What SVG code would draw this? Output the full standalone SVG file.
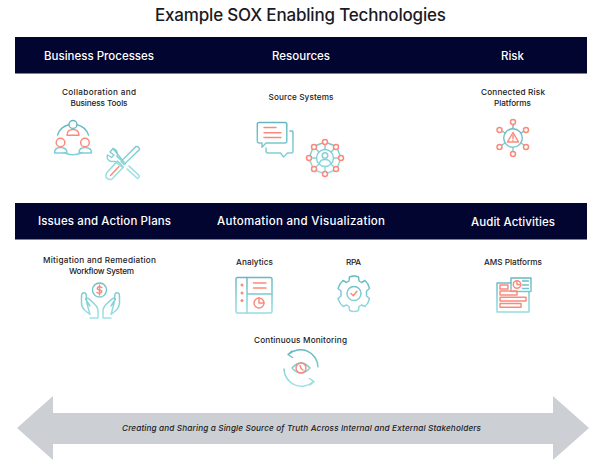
<svg xmlns="http://www.w3.org/2000/svg" xmlns:xlink="http://www.w3.org/1999/xlink" width="600" height="470" viewBox="0 0 600 470">
<defs>
<linearGradient id="base"><stop offset="0" stop-color="#62b6bf"/><stop offset="1" stop-color="#9fe4e6"/></linearGradient>
<linearGradient id="g1" href="#base" gradientUnits="userSpaceOnUse" x1="0" x2="0" y1="120" y2="182"/>
<linearGradient id="g2" href="#base" gradientUnits="userSpaceOnUse" x1="0" x2="0" y1="275" y2="320"/>
<linearGradient id="g3" href="#base" gradientUnits="userSpaceOnUse" x1="0" x2="0" y1="350" y2="388"/>
</defs>
<style>
text{font-family:"Inter","Liberation Sans",sans-serif;text-anchor:middle;fill:#1a1a24}
.title{font-size:17px;font-weight:500}
.bar{fill:#020530}
.hd{font-size:11.500px;font-weight:500;fill:#fff}
.lb{font-size:8.200px;font-weight:500}
.t1,.t2,.t3,.s{fill:none;stroke-width:1.450;stroke-linecap:round;stroke-linejoin:round}
.t1{stroke:url(#g1)}.t2{stroke:url(#g2)}.t3{stroke:url(#g3)}
.s{stroke:#fb8a7c}
.n{fill:#fff;stroke:#fb8a7c;stroke-width:1.500}
.f{fill:#fb8a7c}
</style>
<rect width="600" height="470" fill="#fff"/>
<text class="title" x="300.500" y="21" textLength="291">Example SOX Enabling Technologies</text>
<g id="bar-top"><rect class="bar" x="15" y="37" width="572" height="36.500"/>
<text class="hd" x="99" y="60" textLength="110">Business Processes</text>
<text class="hd" x="301" y="60" textLength="58">Resources</text>
<text class="hd" x="512.500" y="60" textLength="23">Risk</text></g>
<g id="bar-mid"><rect class="bar" x="15" y="203" width="572" height="36.500"/>
<text class="hd" x="104.500" y="225" textLength="133">Issues and Action Plans</text>
<text class="hd" x="301" y="225" textLength="168">Automation and Visualization</text>
<text class="hd" x="513" y="226" textLength="84">Audit Activities</text></g>

<g id="collab">
<text class="lb" x="99" y="95" textLength="74">Collaboration and</text>
<text class="lb" x="99" y="106" textLength="57">Business Tools</text>
<path class="t1" d="M77 124.800A16 16 0 0 1 88.500 135M57.500 135A16 16 0 0 1 68.500 124.800M64 152.500Q73 157 82 152.500"/>
<circle class="t1" cx="73" cy="124.500" r="4"/>
<path class="s" d="M67 135.300Q67 129.500 73 129.500Q79 129.500 79 135.300Z"/>
<circle class="s" cx="60.500" cy="142.500" r="4.300"/><circle class="s" cx="85" cy="142.500" r="4.300"/>
<path class="t1" d="M54.500 153Q54.500 147.500 60.500 147.500Q67 147.500 67 153ZM79 153Q79 147.500 85 147.500Q91.500 147.500 91.500 153Z"/>
<path class="t1" d="M113 148.500L110 152L114 155L111.500 157.500L107.500 155Q106 160 111 161.500L115 161.500L122 167M125.500 164L117 156.500Q119 151 113 148.500ZM127 169L137.500 178.500Q139.500 178 139 175.500L129 166"/>
<path class="t1" d="M136 146.500Q139 146 139.500 149.500L124 164.500L121 161.500ZM117.500 161L123.500 167L111.500 179.500Q108 180 106 177.500Q105.500 174.500 107 172.500Z"/>
<path class="s" d="M110.500 175.500L119 166.500"/>
</g>

<g id="resources">
<text class="lb" x="301" y="100" textLength="65">Source Systems</text>
<path class="t1" d="M259 122.500H285Q286.800 122.500 286.800 124.300V141Q286.800 143 285 143H266L262 147.300V143H259Q257.300 143 257.300 141V124.300Q257.300 122.500 259 122.500Z"/>
<path class="t1" d="M290 131H292Q293 131 293 132.500V151Q293 153 291.500 153H287.500L283.500 157L280.500 153H268Q266 153 266 151V148"/>
<path class="s" d="M264 127.500H276M264 132.700H281M264 137.500H281"/>
<path class="t1" d="M325 142L336.500 146.500L341 158L336.500 169.500L325 174L313.500 169.500L309 158L313.500 146.500ZM325 142V149.500M336.500 146.500L331 152M341 158H333.500M336.500 169.500L331 164M325 174V166.500M313.500 169.500L319 164M309 158H316.500M313.500 146.500L319 152"/>
<circle class="t1" cx="325" cy="158" r="8.500"/>
<circle class="t1" cx="325" cy="155.500" r="2.800"/>
<path class="t1" d="M319.500 163.500Q320 159.500 325 159.500Q330 159.500 330.500 163.500"/>
<g class="n"><circle cx="325" cy="142" r="2.500"/><circle cx="336" cy="147" r="2.500"/><circle cx="341" cy="158" r="2.500"/><circle cx="336" cy="169" r="2.500"/><circle cx="325" cy="174" r="2.500"/><circle cx="314" cy="169" r="2.500"/><circle cx="309" cy="158" r="2.500"/><circle cx="314" cy="147" r="2.500"/></g>
</g>

<g id="risk">
<text class="lb" x="513" y="95" textLength="64">Connected Risk</text>
<text class="lb" x="512.500" y="106" textLength="37">Platforms</text>
<path class="t1" d="M513 124V128.500M524 131L521 133M524 145L521 143M513 152V147.500M502 145L505 143M502 131L505 133"/>
<circle class="t1" cx="513" cy="138" r="9.300"/>
<path class="s" d="M513 132.500L518.500 142H507.500ZM513 135.500V138.500M513 140.300V140.500"/>
<g class="n"><circle cx="513" cy="122" r="2.500"/><circle cx="526" cy="130" r="2.500"/><circle cx="526" cy="147" r="2.500"/><circle cx="513" cy="154" r="2.500"/><circle cx="499.500" cy="147" r="2.500"/><circle cx="499.500" cy="130" r="2.500"/></g>
</g>

<g id="mitigation">
<text class="lb" x="99.500" y="263" textLength="113">Mitigation and Remediation</text>
<text class="lb" x="101.500" y="274" textLength="65">Workflow System</text>
<circle class="t2" cx="99.500" cy="290" r="7"/>
<path class="s" d="M102 287.500Q99.500 285.800 97.500 287.500Q96.500 289.500 99.500 290Q102.500 290.800 101.500 292.500Q99.500 294.200 97 292.500M99.500 285V295"/>
<path class="t2" d="M90 318H98V311Q98 307 94 303.500L88.500 298.500Q86.500 297 85.500 299L90 306M87 303.500L86 294Q85 292 83 293Q81.500 293.500 81.500 296V303Q81.500 307 84.500 310L90 314.500Z"/>
<path class="t2" d="M111 318H103V311Q103 307 107 303.500L112.500 298.500Q114.500 297 115.500 299L111 306M114 303.500L115 294Q116 292 118 293Q119.500 293.500 119.500 296V303Q119.500 307 116.500 310L111 314.500Z"/>
</g>

<g id="analytics">
<text class="lb" x="254.500" y="265" textLength="37">Analytics</text>
<rect class="t2" x="236" y="277.500" width="36" height="35.500" rx="1.500"/>
<path class="t2" d="M247 277.500V313M247 294H272"/>
<circle class="f" cx="242" cy="285" r="1.500"/><circle class="f" cx="242" cy="293" r="1.500"/><circle class="f" cx="242" cy="300.500" r="1.500"/>
<path class="s" d="M253.500 283H266M253.500 288H266"/>
<circle class="s" cx="259" cy="303" r="5"/><path class="s" d="M259 298V303H264"/>
</g>

<g id="rpa">
<text class="lb" x="353.500" y="265" textLength="15">RPA</text>
<path class="t2" d="M349.500 277Q354 275 358.500 277L359 281L361.500 282.500L365 280.500Q368.500 283.500 369.500 288.500L366.500 291V296L369.500 298.500Q368.500 303.500 365 306.500L361.500 305L359 306.500L358.500 310.500Q354 312.500 349.500 310.500L349 306.500L346.500 305L343 306.500Q339.500 303.500 338 298.500L341 296V291L338 288.500Q339.500 283.500 343 280.500L346.500 282.500L349 281Z"/>
<circle class="t2" cx="354" cy="293.500" r="7"/>
<path class="s" d="M351 293.500L353.300 295.800L357 291.300"/>
</g>

<g id="ams">
<text class="lb" x="513" y="265" textLength="58">AMS Platforms</text>
<path class="t2" d="M511 283H497V312H529V292"/>
<rect class="t2" x="511" y="278" width="20" height="13.500"/>
<circle class="s" cx="517" cy="284.500" r="3.700"/><path class="s" d="M517 281V284.500H520.500"/>
<path class="t2" d="M522.500 281H528.500M522.500 285H528.500M522.500 288.500H528.500"/>
<g class="s"><rect x="500" y="285" width="8" height="4"/><rect x="500" y="291" width="17" height="4"/><rect x="500" y="297.300" width="26" height="3.700"/><rect x="500" y="303.500" width="21" height="3.700"/></g>
</g>

<g id="monitoring">
<text class="lb" x="300.500" y="343" textLength="93">Continuous Monitoring</text>
<path class="t3" d="M288.500 354.500A17.500 17.500 0 0 1 318 367M288 354.500L292 351M288 354.500L292.500 357.500M313.500 381.500A17.500 17.500 0 0 1 284 369M314 381.500L310 385M314 381.500L309.500 378.500"/>
<path class="t3" d="M292 368Q301 358 310 368Q301 378 292 368Z"/>
<circle class="s" cx="301" cy="368" r="5"/><path class="s" d="M300 365.500L301 368.500L303 370"/>
</g>

<g id="banner">
<path fill="#ccd0d5" d="M17 428L53 396V413H553V396L589 428L553 460V444H53V460Z"/>
<text x="301.500" y="431" font-size="8.200" font-style="italic" font-weight="500" textLength="359">Creating and Sharing a Single Source of Truth Across Internal and External Stakeholders</text>
</g>
</svg>
